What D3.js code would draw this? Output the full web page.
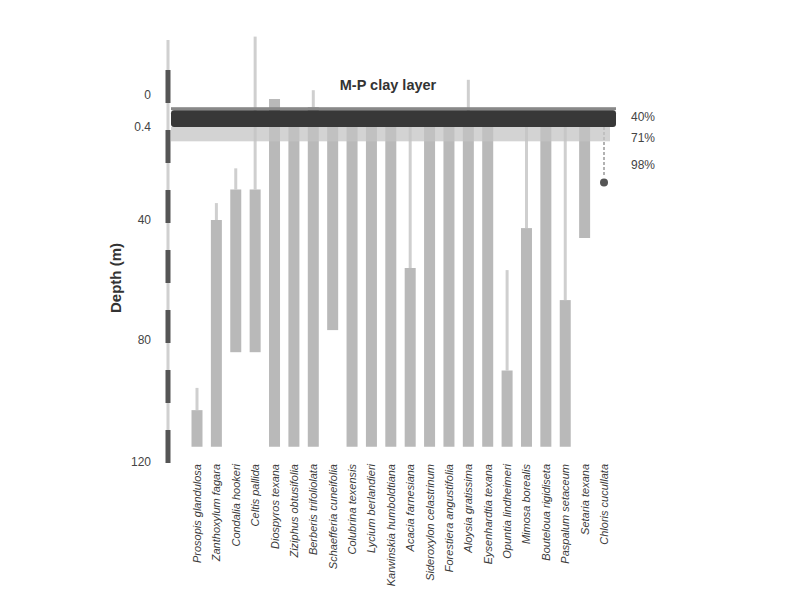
<!DOCTYPE html>
<html>
<head>
<meta charset="utf-8">
<script src="https://cdn.jsdelivr.net/npm/d3@7/dist/d3.min.js"></script>
<style>
  html, body { margin: 0; padding: 0; background: #fff; }
  svg { display: block; font-family: "Liberation Sans", Arial, sans-serif; }
</style>
</head>
<body>
<svg id="chart" width="792" height="612"></svg>
<script>
// ---- data ----
const categories = [
  "Prosopis glandulosa", "Zanthoxylum fagara", "Condalia hookeri", "Celtis pallida",
  "Diospyros texana", "Ziziphus obtusifolia", "Berberis trifoliolata", "Schaefferia cuneifolia",
  "Colubrina texensis", "Lycium berlandieri", "Karwinskia humboldtiana", "Acacia farnesiana",
  "Sideroxylon celastrinum", "Forestiera angustifolia", "Aloysia gratissima", "Eysenhardtia texana",
  "Opuntia lindheimeri", "Mimosa borealis", "Bouteloua rigidiseta", "Paspalum setaceum",
  "Setaria texana", "Chloris cucullata"
];
// main (dark) bar: top and bottom depth (m)
const barTop    = [103, 40, 27, 27, 0.05, 0.4, 0.15, 0.4, 0.4, 0.4, 0.4, 56, 0.4, 0.4, 0.4, 0.4, 90, 42.7, 0.4, 66.7, 0.4, null];
const barBottom = [115, 115, 84, 84, 115, 115, 115, 76.7, 115, 115, 115, 115, 115, 115, 115, 115, 115, 115, 115, 115, 46, null];
// thin extension line: top and bottom depth (m)
const whiskerTop    = [95.7, 32.8, 18, -0.73, null, null, -0.06, null, null, null, null, 0.4, null, null, -0.19, null, 56.7, 0.4, null, 0.4, null, 0.4];
const whiskerBottom = [103, 40, 27, 27, null, null, 0.15, null, null, null, null, 56, null, null, 0.4, null, 90, 42.7, null, 66.7, null, 21];
// single observation
const pointDepth = [null, null, null, null, null, null, null, null, null, null, null, null, null, null, null, null, null, null, null, null, null, 24];
// axis
const yTickValues = [0, 0.4, 40, 80, 120];
const yTickLabels = ["0", "0.4", "40", "80", "120"];
// clay layer & cumulative percentages
const clayTop = 0.19, clayBottom = 0.4, belowClayBottom = 6.5;
const pctLabels = ["40%", "71%", "98%"];
const pctDepths = [0.28, 5.6, 17.0];

// ---- scales ----
const svg = d3.select("#chart");
const y = d3.scaleLinear().domain([0, 0.4, 40, 80, 120]).range([95, 127, 220, 340, 462]);
const x = d3.scalePoint().domain(categories).range([197, 604]);
const barW = 11;
const axisX = 168;

const rows = categories.map((c, i) => ({
  c, bt: barTop[i], bb: barBottom[i], wt: whiskerTop[i], wb: whiskerBottom[i], p: pointDepth[i], i
}));

// whiskers
svg.append("g").selectAll("line")
  .data(rows.filter(d => d.wt !== null && d.i !== 21))
  .join("line")
  .attr("x1", d => x(d.c)).attr("x2", d => x(d.c))
  .attr("y1", d => y(d.wt)).attr("y2", d => y(d.wb))
  .attr("stroke", "#cfcfcf").attr("stroke-width", 3);

// dashed whisker for last
svg.append("g").selectAll("line")
  .data(rows.filter(d => d.wt !== null && d.i === 21))
  .join("line")
  .attr("x1", d => x(d.c)).attr("x2", d => x(d.c))
  .attr("y1", d => y(d.wt)).attr("y2", d => y(d.wb))
  .attr("stroke", "#999").attr("stroke-width", 1.5).attr("stroke-dasharray", "3,2");

// bars
svg.append("g").selectAll("rect")
  .data(rows.filter(d => d.bt !== null))
  .join("rect")
  .attr("x", d => x(d.c) - barW / 2).attr("width", barW)
  .attr("y", d => y(d.bt)).attr("height", d => y(d.bb) - y(d.bt))
  .attr("fill", "#b9b9b9");

// points
svg.append("g").selectAll("circle")
  .data(rows.filter(d => d.p !== null))
  .join("circle")
  .attr("cx", d => x(d.c)).attr("cy", d => y(d.p)).attr("r", 4)
  .attr("fill", "#555");

// clay layer band
const bandX0 = 171, bandX1 = 616;
svg.append("rect")
  .attr("x", bandX0).attr("width", bandX1 - bandX0 - 6)
  .attr("y", y(clayBottom)).attr("height", y(belowClayBottom) - y(clayBottom))
  .attr("fill", "#c4c4c4").attr("fill-opacity", 0.75);
svg.append("rect")
  .attr("x", bandX0).attr("width", bandX1 - bandX0)
  .attr("y", y(clayTop) - 3).attr("height", 3)
  .attr("fill", "#888");
svg.append("rect")
  .attr("x", bandX0).attr("width", bandX1 - bandX0)
  .attr("y", y(clayTop)).attr("height", y(clayBottom) - y(clayTop))
  .attr("rx", 3)
  .attr("fill", "#383838");

svg.append("text")
  .attr("x", 388).attr("y", 90)
  .attr("text-anchor", "middle")
  .attr("font-size", 14.5).attr("font-weight", "bold").style("fill", "#333")
  .text("M-P clay layer");

// percentage labels
svg.append("g").selectAll("text")
  .data(pctLabels)
  .join("text")
  .attr("x", 631).attr("y", (d, i) => y(pctDepths[i]))
  .attr("dominant-baseline", "middle")
  .attr("font-size", 12).style("fill", "#444")
  .text(d => d);

// y axis (broken / dashed)
svg.append("line")
  .attr("x1", axisX).attr("x2", axisX).attr("y1", 40).attr("y2", 463)
  .attr("stroke", "#d0d0d0").attr("stroke-width", 3);
svg.append("line")
  .attr("x1", axisX).attr("x2", axisX).attr("y1", 70).attr("y2", 463)
  .attr("stroke", "#555").attr("stroke-width", 5).attr("stroke-dasharray", "33,27");

const axis = d3.axisLeft(y).tickValues(yTickValues).tickFormat((d, i) => yTickLabels[i]).tickSize(0).tickPadding(17);
const gAxis = svg.append("g").attr("transform", `translate(${axisX},0)`).call(axis);
gAxis.select(".domain").remove();
gAxis.selectAll("text").attr("font-size", 12).style("fill", "#444")
  .attr("font-family", "'Liberation Sans', Arial, sans-serif");

svg.append("text")
  .attr("transform", "translate(121,278) rotate(-90)")
  .attr("text-anchor", "middle")
  .attr("font-size", 15).attr("font-weight", "bold").style("fill", "#333")
  .text("Depth (m)");

// category labels
svg.append("g").selectAll("text")
  .data(categories)
  .join("text")
  .attr("transform", d => `translate(${x(d) + 4},464) rotate(-90)`)
  .attr("text-anchor", "end")
  .attr("font-size", 11).attr("font-style", "italic").style("fill", "#3a3a3a")
  .text(d => d);
</script>
</body>
</html>
